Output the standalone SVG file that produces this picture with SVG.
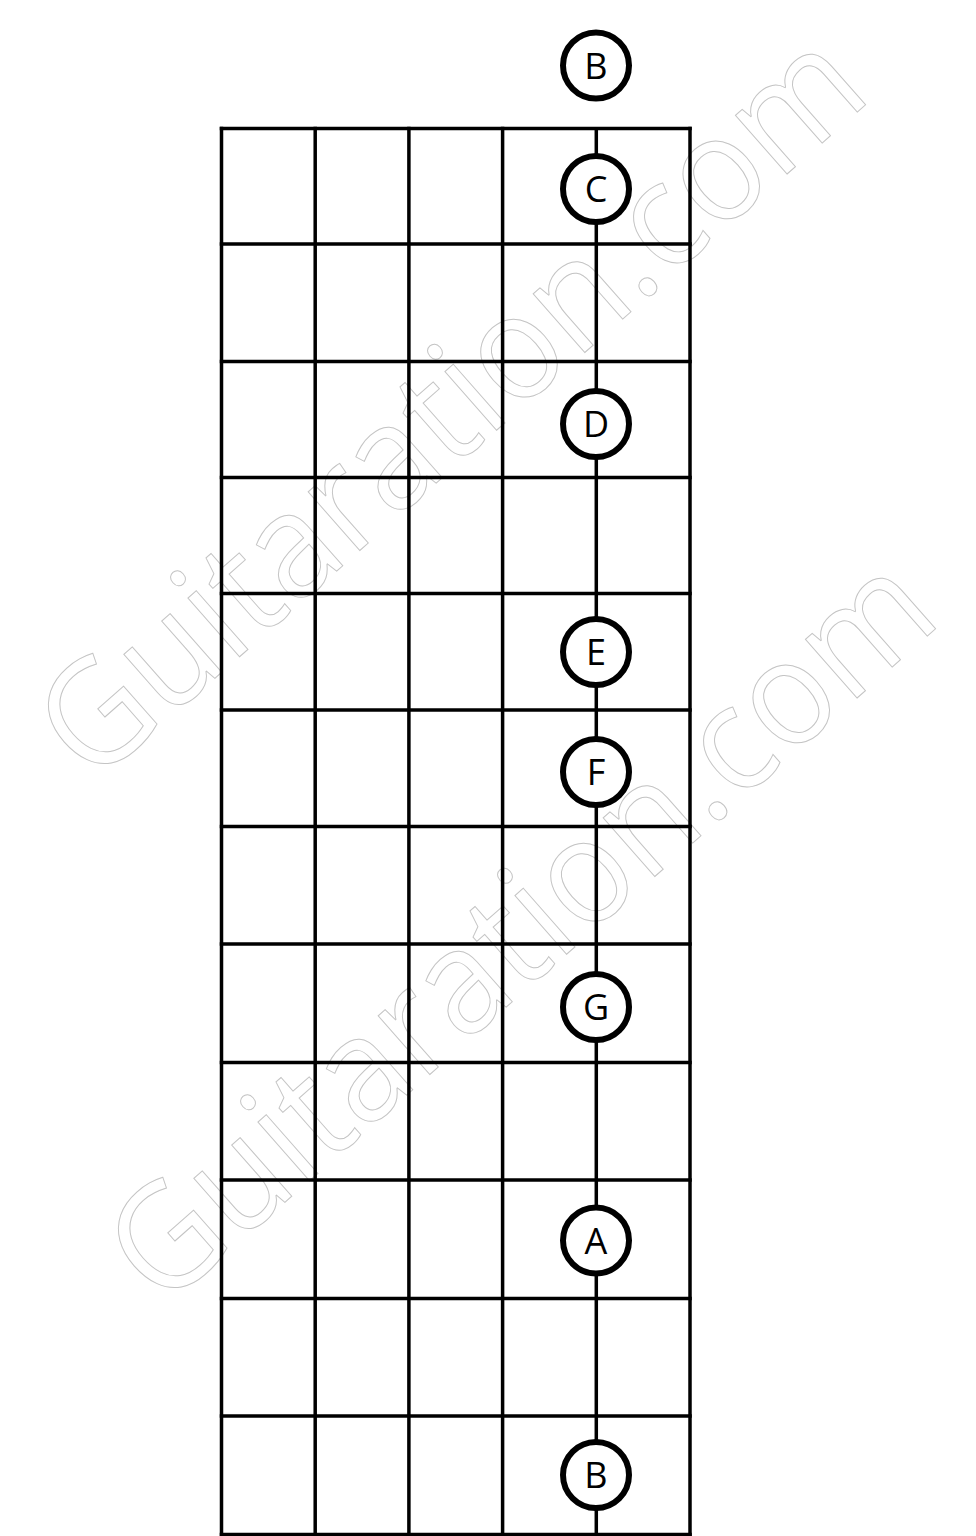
<svg xmlns="http://www.w3.org/2000/svg" width="976" height="1536" viewBox="0 0 976 1536">
<style>
.wm{font-family:"Open Sans","Liberation Sans",sans-serif;font-size:146px;fill:none;stroke:#c4c4c4;stroke-width:1}
.grid line{stroke:#000;stroke-width:3.5;stroke-linecap:square}
.str{stroke:#000;stroke-width:3.5}
.note circle{fill:#fff;stroke:#000;stroke-width:6}
.note text{font-family:"Open Sans","Liberation Sans",sans-serif;font-size:36px;fill:#000;text-anchor:middle}
</style>
<rect width="976" height="1536" fill="#fff"/>
<g id="watermark">
<text class="wm" x="-451" y="651" transform="rotate(-41.4)" textLength="1042" lengthAdjust="spacingAndGlyphs">Guitaration.com</text>
<text class="wm" x="-451" y="651" transform="translate(70 524) rotate(-41.4)" textLength="1042" lengthAdjust="spacingAndGlyphs">Guitaration.com</text>
</g>
<g id="fretboard" class="grid">
<line x1="221.5" y1="128.5" x2="221.5" y2="1534.5"/>
<line x1="315.2" y1="128.5" x2="315.2" y2="1534.5"/>
<line x1="408.9" y1="128.5" x2="408.9" y2="1534.5"/>
<line x1="502.6" y1="128.5" x2="502.6" y2="1534.5"/>
<line x1="690" y1="128.5" x2="690" y2="1534.5"/>
<line x1="221.5" y1="128.5" x2="690" y2="128.5"/>
<line x1="221.5" y1="244" x2="690" y2="244"/>
<line x1="221.5" y1="361.5" x2="690" y2="361.5"/>
<line x1="221.5" y1="477.5" x2="690" y2="477.5"/>
<line x1="221.5" y1="593.5" x2="690" y2="593.5"/>
<line x1="221.5" y1="710" x2="690" y2="710"/>
<line x1="221.5" y1="826.5" x2="690" y2="826.5"/>
<line x1="221.5" y1="944" x2="690" y2="944"/>
<line x1="221.5" y1="1062.5" x2="690" y2="1062.5"/>
<line x1="221.5" y1="1180" x2="690" y2="1180"/>
<line x1="221.5" y1="1298.5" x2="690" y2="1298.5"/>
<line x1="221.5" y1="1416" x2="690" y2="1416"/>
<line x1="221.5" y1="1534.5" x2="690" y2="1534.5"/>
</g>
<g id="connectors">
<line class="str" x1="596.3" y1="128.5" x2="596.3" y2="1536"/>
</g>
<g id="note-B-open" class="note"><circle cx="596" cy="65.5" r="33"/><text x="596" y="78.5">B</text></g>
<g id="note-C" class="note"><circle cx="596" cy="189" r="33"/><text x="596" y="202">C</text></g>
<g id="note-D" class="note"><circle cx="596" cy="424" r="33"/><text x="596" y="437">D</text></g>
<g id="note-E" class="note"><circle cx="596" cy="652" r="33"/><text x="596" y="665">E</text></g>
<g id="note-F" class="note"><circle cx="596" cy="772" r="33"/><text x="596" y="785">F</text></g>
<g id="note-G" class="note"><circle cx="596" cy="1007" r="33"/><text x="596" y="1020">G</text></g>
<g id="note-A" class="note"><circle cx="596" cy="1240.5" r="33"/><text x="596" y="1253.5">A</text></g>
<g id="note-B" class="note"><circle cx="596" cy="1475" r="33"/><text x="596" y="1488">B</text></g>
</svg>
